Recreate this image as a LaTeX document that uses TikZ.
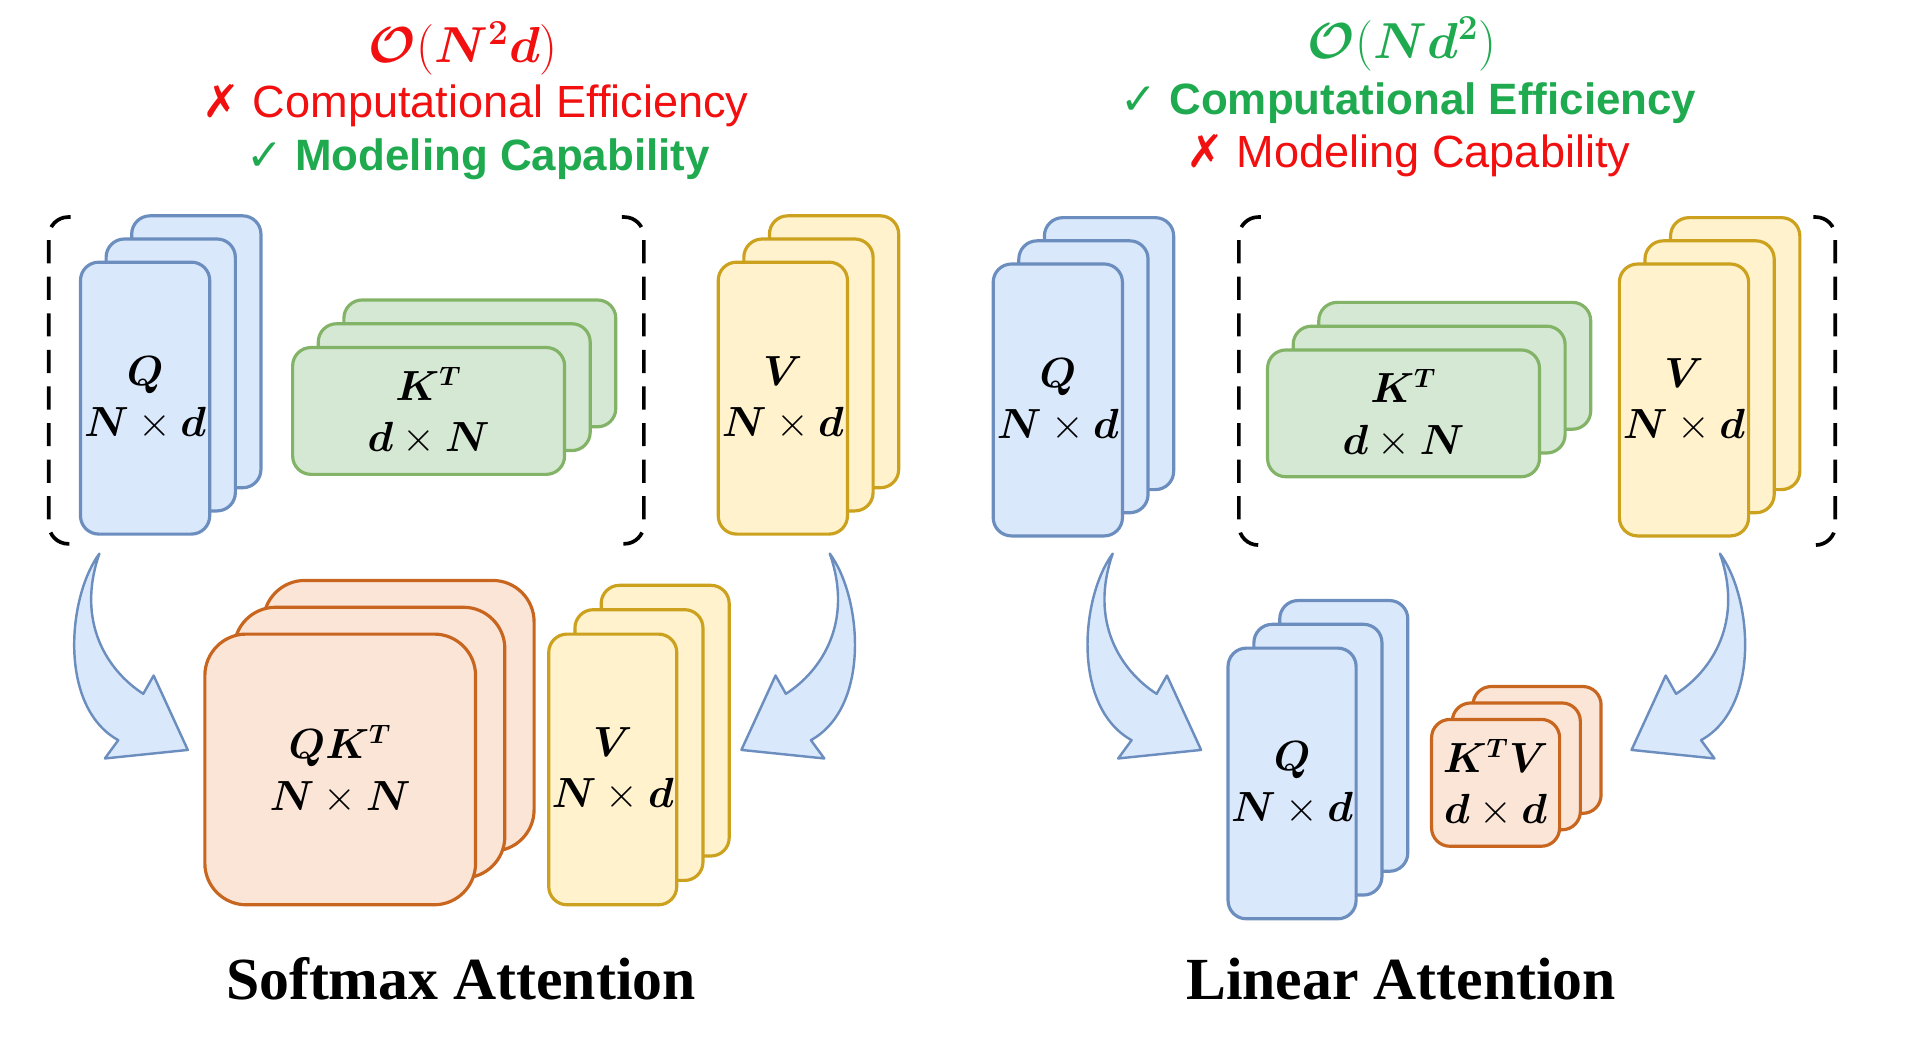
\documentclass[tikz,border=0pt]{standalone}
\usepackage{amsmath}
\usepackage{bm}
\usepackage{fontspec}
\usepackage{tikz}
\usetikzlibrary{positioning}
\newfontfamily\headfont{Liberation Serif}
\newfontfamily\notefont{Liberation Sans}
\newfontfamily\markfont{DejaVu Sans}
\definecolor{qfill}{HTML}{DAE8FC}
\definecolor{qline}{HTML}{6C8EBF}
\definecolor{kfill}{HTML}{D5E8D4}
\definecolor{kline}{HTML}{82B366}
\definecolor{vfill}{HTML}{FFF2CC}
\definecolor{vline}{HTML}{CBA11E}
\definecolor{sfill}{HTML}{FBE5D6}
\definecolor{sline}{HTML}{C8651F}
\definecolor{badred}{HTML}{F20F0F}
\definecolor{goodgreen}{HTML}{1FAA50}
\tikzstyle{card} = [draw, rectangle, line width=1.3pt, inner sep=0pt, align=center, on grid, font=\fontsize{16}{21}\selectfont]
\tikzstyle{qcard} = [card, draw=qline, fill=qfill, rounded corners=7.5pt, minimum width=53pt, minimum height=111.5pt]
\tikzstyle{kcard} = [card, draw=kline, fill=kfill, rounded corners=7.5pt, minimum width=111.5pt, minimum height=52pt]
\tikzstyle{vcard} = [card, draw=vline, fill=vfill, rounded corners=7.5pt, minimum width=53pt, minimum height=111.5pt]
\tikzstyle{scard} = [card, draw=sline, fill=sfill, rounded corners=17pt, minimum width=111pt, minimum height=111pt]
\tikzstyle{kvcard} = [card, draw=sline, fill=sfill, rounded corners=7.5pt, minimum width=52.5pt, minimum height=52pt]
\tikzstyle{bracket} = [draw=black, line width=1.5pt, dash pattern=on 9.5pt off 5.5pt, rounded corners=8pt]
\tikzstyle{flow} = [draw=qline, fill=qfill, line width=1pt, line join=round]
\tikzstyle{cost} = [font=\fontsize{20}{20}\selectfont]
\tikzstyle{note} = [font=\notefont\fontsize{18.5}{18.5}\selectfont]
\tikzstyle{notebold} = [font=\notefont\bfseries\fontsize{18}{18}\selectfont]
\tikzstyle{caption} = [font=\headfont\bfseries\fontsize{24.5}{24.5}\selectfont]
\newcommand{\mlabel}[3]{$\bm{#1}$\\$\bm{#2}\times\bm{#3}$}
\newcommand{\flowarrow}[1]{\path[flow,#1] (81.5,454) .. controls (55,490) and (48,580) .. (97,607) -- (86,622) -- (154,615) -- (126,554) -- (117.5,569) .. controls (88,550) and (62,510) .. cycle;}

\begin{document}
\begin{tikzpicture}[x=0.5pt, y=-0.5pt]
    \useasboundingbox (0,0) rectangle (1568,850);

    % softmax attention
    \node [cost, text=badred] (cost_s) at (380,40) {$\bm{\mathcal{O}}(\bm{N}^{\bm{2}}\bm{d})$};
    \node [note, text=badred] (eff_s) at (390,87) {{\markfont ✗} Computational Efficiency};
    \node [notebold, text=goodgreen] (mod_s) at (392,131) {{\markfont\bfseries ✓} Modeling Capability};

    \node [qcard] (q3_s) at (161,288.5) {};
    \node [qcard, below left=9.5pt and 10.5pt of q3_s] (q2_s) {};
    \node [qcard, below left=9.5pt and 10.5pt of q2_s] (q1_s) {\mlabel{Q}{N}{d}};
    \node [kcard] (k3_s) at (393.5,298) {};
    \node [kcard, below left=9.75pt and 10.5pt of k3_s] (k2_s) {};
    \node [kcard, below left=9.75pt and 10.5pt of k2_s] (k1_s) {\mlabel{K^{T}}{d}{N}};
    \node [vcard] (v3_s) at (684,288.5) {};
    \node [vcard, below left=9.5pt and 10.5pt of v3_s] (v2_s) {};
    \node [vcard, below left=9.5pt and 10.5pt of v2_s] (v1_s) {\mlabel{V}{N}{d}};
    \draw [bracket] (58,178) -- (40,178) -- (40,446) -- (58,446);
    \draw [bracket] (510,178) -- (528,178) -- (528,446) -- (510,446);

    \node [scard] (a3_s) at (327,587) {};
    \node [scard, below left=11pt and 12pt of a3_s] (a2_s) {};
    \node [scard, below left=11pt and 12pt of a2_s] (a1_s) {\mlabel{QK^{T}}{N}{N}};
    \node [vcard, minimum width=52.5pt, minimum height=111pt] (w3_s) at (545.5,591) {};
    \node [vcard, minimum width=52.5pt, minimum height=111pt, below left=10pt and 10.75pt of w3_s] (w2_s) {};
    \node [vcard, minimum width=52.5pt, minimum height=111pt, below left=10pt and 10.75pt of w2_s] (w1_s) {\mlabel{V}{N}{d}};

    \flowarrow{}
    \flowarrow{shift={(762,0)}, xscale=-1}
    \node [caption] (title_s) at (378,803) {Softmax Attention};

    % linear attention
    \node [cost, text=goodgreen] (cost_l) at (1150,36) {$\bm{\mathcal{O}}(\bm{N}\bm{d}^{\bm{2}})$};
    \node [notebold, text=goodgreen] (eff_l) at (1155,85) {{\markfont\bfseries ✓} Computational Efficiency};
    \node [note, text=badred] (mod_l) at (1155,128) {{\markfont ✗} Modeling Capability};

    \node [qcard] (q3_l) at (909.5,290) {};
    \node [qcard, below left=9.5pt and 10.5pt of q3_l] (q2_l) {};
    \node [qcard, below left=9.5pt and 10.5pt of q2_l] (q1_l) {\mlabel{Q}{N}{d}};
    \node [kcard] (k3_l) at (1193,300) {};
    \node [kcard, below left=9.75pt and 10.5pt of k3_l] (k2_l) {};
    \node [kcard, below left=9.75pt and 10.5pt of k2_l] (k1_l) {\mlabel{K^{T}}{d}{N}};
    \node [vcard] (v3_l) at (1423,290) {};
    \node [vcard, below left=9.5pt and 10.5pt of v3_l] (v2_l) {};
    \node [vcard, below left=9.5pt and 10.5pt of v2_l] (v1_l) {\mlabel{V}{N}{d}};
    \draw [bracket] (1034,178) -- (1016,178) -- (1016,447) -- (1034,447);
    \draw [bracket] (1487,178) -- (1505,178) -- (1505,447) -- (1487,447);

    \node [qcard, minimum width=52.5pt, minimum height=111pt] (p3_l) at (1102,603.5) {};
    \node [qcard, minimum width=52.5pt, minimum height=111pt, below left=9.75pt and 10.6pt of p3_l] (p2_l) {};
    \node [qcard, minimum width=52.5pt, minimum height=111pt, below left=9.75pt and 10.6pt of p2_l] (p1_l) {\mlabel{Q}{N}{d}};
    \node [kvcard] (b3_l) at (1260.5,615) {};
    \node [kvcard, below left=6.75pt and 8.5pt of b3_l] (b2_l) {};
    \node [kvcard, below left=6.75pt and 8.5pt of b2_l] (b1_l) {\mlabel{K^{T}V}{d}{d}};

    \flowarrow{shift={(831,0)}}
    \flowarrow{shift={(1492,0)}, xscale=-1}
    \node [caption] (title_l) at (1149,803) {Linear Attention};
\end{tikzpicture}
\end{document}
